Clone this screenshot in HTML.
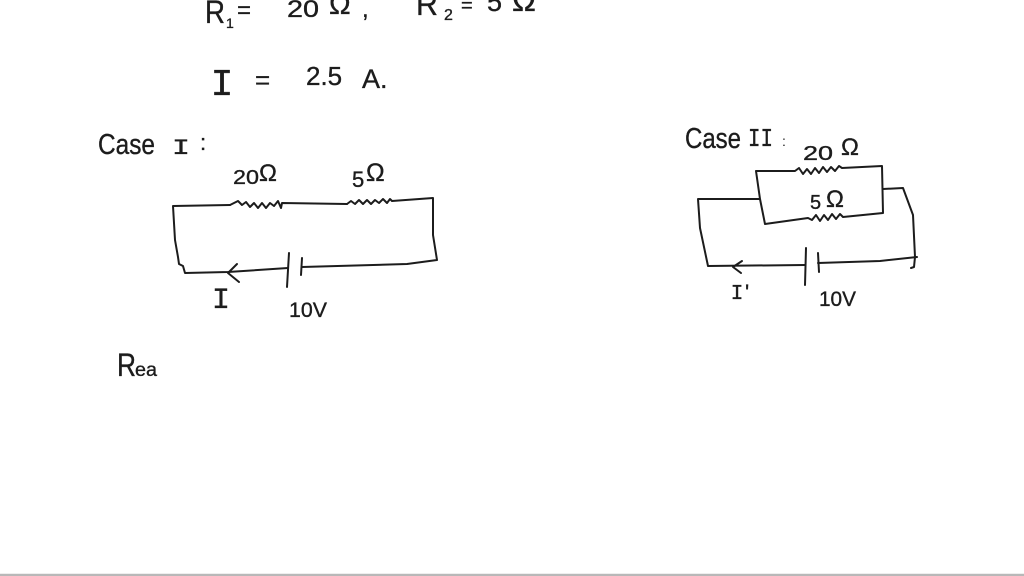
<!DOCTYPE html>
<html>
<head>
<meta charset="utf-8">
<style>
html,body{margin:0;padding:0;background:#fff;width:1024px;height:576px;overflow:hidden}
svg{display:block}
.w{fill:none;stroke:#1c1c1c;stroke-width:2;stroke-linecap:round;stroke-linejoin:round}
text{font-family:"Liberation Sans",sans-serif;fill:#1c1c1c;stroke:#1c1c1c;stroke-width:.35}
.m{font-family:"Liberation Mono",monospace;text-anchor:middle}
</style>
</head>
<body>
<svg width="1024" height="576" viewBox="0 0 1024 576" xmlns="http://www.w3.org/2000/svg">
<rect width="1024" height="576" fill="#fff"/>
<rect x="0" y="573" width="1024" height="1" fill="#eeeeee"/>
<rect x="0" y="574" width="1024" height="2" fill="#b8b8b8"/>

<!-- top equations -->
<text x="205" y="23" font-size="32" textLength="20" lengthAdjust="spacingAndGlyphs">R</text>
<text x="226" y="28" font-size="14">1</text>
<text x="237" y="18" font-size="24">=</text>
<text x="287" y="17" font-size="24" textLength="32" lengthAdjust="spacingAndGlyphs">20</text>
<text x="329" y="14" font-size="29">Ω</text>
<text x="362" y="17" font-size="24">,</text>
<text x="416" y="15" font-size="32" textLength="22" lengthAdjust="spacingAndGlyphs">R</text>
<text x="444" y="20" font-size="16">2</text>
<text x="461" y="12" font-size="20">=</text>
<text x="487" y="11" font-size="27">5</text>
<text x="512" y="11" font-size="32">Ω</text>

<text x="222" y="95" font-size="38" class="m">I</text>
<text x="255" y="89" font-size="26">=</text>
<text x="306" y="85" font-size="26">2.5</text>
<text x="362" y="88" font-size="27">A.</text>

<!-- Case I -->
<text x="98" y="154" font-size="29" textLength="57" lengthAdjust="spacingAndGlyphs">Case</text>
<text x="172" y="154" font-size="22" class="m" style="text-anchor:start" textLength="18" lengthAdjust="spacingAndGlyphs">I</text>
<text x="200" y="150" font-size="22">:</text>
<text x="233" y="184" font-size="20" textLength="26" lengthAdjust="spacingAndGlyphs">20</text>
<text x="259" y="181" font-size="24">Ω</text>
<text x="352" y="187" font-size="22">5</text>
<text x="366" y="181" font-size="25">Ω</text>
<text x="221" y="308" font-size="30" class="m">I</text>
<text x="289" y="317" font-size="21" textLength="38" lengthAdjust="spacingAndGlyphs">10V</text>

<polyline class="w" points="230,205 173,206 175,240 178,257 179,264 183,266 185,273 228,272 288,268"/>
<polyline class="w" points="230,205 234,203 238,201 242,205 246,202 250,207 254,203 258,208 262,203 266,208 270,203 274,206 278,201 281,208 282,203 347,204"/>
<polyline class="w" points="347,204 351,201 355,204 359,200 363,204 367,200 371,204 375,200 379,203 383,199 387,203 390,199 392,201 433,198 433,235 437,260 407,264 302,267"/>
<polyline class="w" points="237,264 228,273 239,282"/>
<line class="w" x1="289" y1="253" x2="287" y2="287"/>
<line class="w" x1="302" y1="258" x2="301" y2="275"/>

<!-- Case II -->
<text x="685" y="148" font-size="29" textLength="56" lengthAdjust="spacingAndGlyphs">Case</text>
<text x="748" y="146" font-size="26" class="m" style="text-anchor:start" textLength="25" lengthAdjust="spacingAndGlyphs">II</text>
<text x="782" y="146" font-size="14" fill="#666" style="stroke:none">:</text>
<text x="803" y="160" font-size="20" textLength="30" lengthAdjust="spacingAndGlyphs">20</text>
<text x="841" y="155" font-size="24">Ω</text>
<text x="810" y="209" font-size="20">5</text>
<text x="826" y="207" font-size="24">Ω</text>
<text x="737" y="299" font-size="21" class="m">I</text>
<text x="745" y="300" font-size="22">'</text>
<text x="819" y="306" font-size="21" textLength="37" lengthAdjust="spacingAndGlyphs">10V</text>

<polyline class="w" points="760,199 756,171 795,171 799,168 803,174 807,169 811,174 815,168 819,173 823,167 827,172 831,167 835,171 839,166 842,168 882,166 883,213 843,217 840,214 836,219 832,214 828,220 824,215 820,221 816,215 812,220 808,218 765,224 760,199 698,199 700,228 708,266 805,265"/>
<polyline class="w" points="883,189 903,188 913,215 915,257 914,267 911,268"/>
<polyline class="w" points="818,263 880,261 917,257"/>
<polyline class="w" points="742,261 733,267 741,273"/>
<line class="w" x1="806" y1="248" x2="805" y2="285"/>
<line class="w" x1="818" y1="253" x2="819" y2="272"/>

<!-- Req -->
<text x="117" y="376" font-size="32" textLength="19" lengthAdjust="spacingAndGlyphs">R</text>
<text x="135" y="376" font-size="19" textLength="22" lengthAdjust="spacingAndGlyphs">ea</text>
</svg>
</body>
</html>
